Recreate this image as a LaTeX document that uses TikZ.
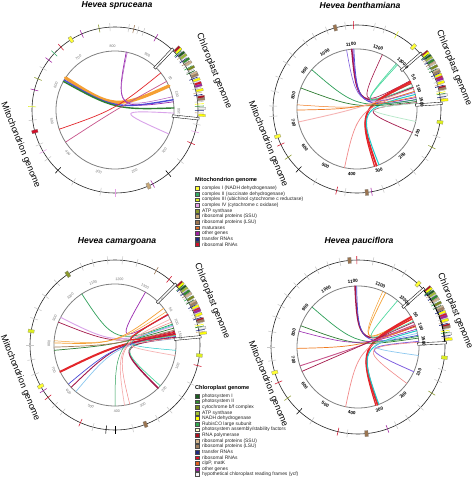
\documentclass[tikz,border=0pt]{standalone}
\usepackage{fontspec}
\setmainfont{Liberation Sans}
% mitochondrion legend colours
\definecolor{cI}{HTML}{FFFF33}
\definecolor{cII}{HTML}{33AA66}
\definecolor{cIII}{HTML}{DDEE22}
\definecolor{cIV}{HTML}{E8A0E8}
\definecolor{atp}{HTML}{8B9A2B}
\definecolor{rpS}{HTML}{C8A878}
\definecolor{rpL}{HTML}{9A7450}
\definecolor{mat}{HTML}{E0702A}
\definecolor{oth}{HTML}{A020A0}
\definecolor{trn}{HTML}{1F2A80}
\definecolor{rrn}{HTML}{D0102A}
\definecolor{lg}{HTML}{C8C8C8}
% chloroplast legend colours
\definecolor{psI}{HTML}{1B5E20}
\definecolor{psII}{HTML}{2E8B2E}
\definecolor{cyt}{HTML}{7A8B1A}
\definecolor{atpC}{HTML}{A0C030}
\definecolor{ndh}{HTML}{FFFF00}
\definecolor{rbc}{HTML}{2FA84F}
\definecolor{ycfA}{HTML}{FFFFCC}
\definecolor{rpo}{HTML}{B01020}
\definecolor{rpsC}{HTML}{D2B48C}
\definecolor{rplC}{HTML}{A08060}
\definecolor{trnC}{HTML}{1F2A80}
\definecolor{rrnC}{HTML}{E0102A}
\definecolor{clp}{HTML}{E06020}
\definecolor{othC}{HTML}{A020A0}
\definecolor{hyp}{HTML}{F2F2F2}
% link colours
\definecolor{Lorange}{HTML}{F5A033}
\definecolor{Lblue}{HTML}{4B4BD6}
\definecolor{Ldgreen}{HTML}{2E7D32}
\definecolor{Lred}{HTML}{E3262B}
\definecolor{Lpink}{HTML}{C8558C}
\definecolor{Lpurple}{HTML}{9A2AB0}
\definecolor{Llilac}{HTML}{D9A3EA}
\definecolor{Lmaroon}{HTML}{A3184A}
\definecolor{Lmint}{HTML}{4FD9A0}
\definecolor{Lcyan}{HTML}{22C9C9}
\definecolor{Lsalmon}{HTML}{F28A8A}
\definecolor{Llpink}{HTML}{F6B4B4}
\definecolor{Llgreen}{HTML}{B5E8C8}
\definecolor{Lgreen}{HTML}{2FA05A}
\definecolor{Lbrown}{HTML}{A57A55}
\definecolor{Llblue}{HTML}{8CC8F0}
\definecolor{Lviolet}{HTML}{8060E0}
\definecolor{Lorange2}{HTML}{F07A20}

\tikzset{
  ring/.style={line width=0.6pt, black!85},
  inring/.style={line width=0.8pt, black!50},
  lnk/.style={line width=0.7pt, line cap=round},
  band/.style={draw=black, fill=white, line width=0.35pt, inner sep=0pt, minimum height=2.4pt},
  ttl/.style={font=\fontsize{8.6}{10}\selectfont\bfseries\itshape, inner sep=0pt},
  gname/.style={font=\fontsize{9}{11}\selectfont, rotate=-68, inner sep=0pt},
  tkA/.style={font=\fontsize{4.6}{5}\selectfont\bfseries, inner sep=0pt},
  tkB/.style={font=\fontsize{3.6}{4}\selectfont, text=black!55, inner sep=0pt},
  lgt/.style={font=\fontsize{5.6}{6}\selectfont\bfseries, anchor=west, inner sep=0pt},
  lgi/.style={font=\fontsize{4.9}{5.5}\selectfont, anchor=west, inner sep=0pt, text=black!85},
  lgb/.style={draw=black!70, line width=0.3pt, minimum size=3.8pt, inner sep=0pt}
}

\newcommand\setpanel[6]{%
  \def\Ri{#1}\def\Ro{#2}\def\Tb{#3}\def\Bb{#4}\def\mz{#5}\def\mscale{#6}%
  \pgfmathsetmacro\Rk{#1*0.04}%
  \pgfmathsetmacro\cpA{#3-1}%
  \pgfmathsetmacro\cpS{#3-#4-2}%
  \pgfmathsetmacro\cps{(#3-#4-2)/161}%
  \pgfmathsetmacro\rmA{#2-4}\pgfmathsetmacro\rmB{#2+4}%
  \pgfmathsetmacro\rmC{#2-3}\pgfmathsetmacro\rmD{#2+3}%
  \pgfmathsetmacro\rcA{#2-3}\pgfmathsetmacro\rcB{#2+6}%
  \pgfmathsetmacro\rcC{#2+0.5}\pgfmathsetmacro\rcD{#2+7.5}%
  \pgfmathsetmacro\Rt{#1+5}%
  \pgfmathsetmacro\Bw{#2-#1+3}\pgfmathsetmacro\Bmid{(#1+#2)/2}%
}
\newcommand\lk[3][]{\draw[lnk,#1] (#2:\Ri) .. controls (#2:\Rk) and (#3:\Rk) .. (#3:\Ri);}
\newcommand\rings{%
  \draw[ring] (0,0) circle[radius=\Ro];
  \draw[inring] (0,0) circle[radius=\Ri];}
\newcommand\mitomarks[1]{%
  \foreach \a/\cc/\t in {#1}{%
    \ifnum\t=1 \draw[\cc, line width=0.55pt] (\a:\rmA) -- (\a:\rmB);
    \else \pgfmathsetmacro\ab{\a-1.1}\pgfmathsetmacro\ac{\a+1.1}%
      \filldraw[fill=\cc, draw=black!50, line width=0.2pt] (\ab:\rmC) -- (\ac:\rmC) -- (\ac:\rmD) -- (\ab:\rmD) -- cycle;
    \fi}}
\def\cplist{0.02/rpo/2, 0.05/ndh/2, 0.07/psII/1, 0.09/trnC/1, 0.11/psI/2, 0.13/rpsC/1, 0.15/atpC/2, 0.17/lg/1, 0.19/trnC/1, 0.21/psII/2, 0.24/rplC/1, 0.26/rpsC/2, 0.28/lg/1, 0.31/rbc/1, 0.33/cyt/2, 0.36/lg/1, 0.38/psI/1, 0.41/rpsC/2, 0.44/rplC/2, 0.47/trnC/1, 0.50/ndh/2, 0.52/lg/1, 0.55/rrnC/2, 0.58/othC/2, 0.61/lg/1, 0.64/ndh/2, 0.67/rpsC/1, 0.70/trnC/1, 0.73/rpo/2, 0.76/rplC/2, 0.79/lg/1, 0.82/ndh/1, 0.85/psII/1, 0.88/hyp/2, 0.91/trnC/1, 0.94/rpsC/1, 0.97/ndh/2}
\newcommand\cpmarks{%
  \foreach \f/\cc/\t in \cplist {%
    \pgfmathsetmacro\angA{\cpA-\f*\cpS}%
    \ifnum\t=1 \draw[\cc, line width=0.6pt] (\angA:\rcA) -- (\angA:\rcB);
    \else \pgfmathsetmacro\ab{\angA-0.75}\pgfmathsetmacro\ac{\angA+0.75}%
      \filldraw[fill=\cc, draw=black!50, line width=0.2pt] (\ab:\rcC) -- (\ac:\rcC) -- (\ac:\rcD) -- (\ab:\rcD) -- cycle;
    \fi}}
\newcommand\bands{%
  \node[band, minimum width=\Bw pt, rotate=\Tb] at (\Tb:\Bmid) {};
  \node[band, minimum width=\Bw pt, rotate=\Bb] at (\Bb:\Bmid) {};}
\newcommand\mticks[2]{%
  \foreach \k in {0,...,#1}{%
    \pgfmathsetmacro\angA{\mz-\mscale*\k*100}%
    \pgfmathsetmacro\rr{sin(\angA)>=0 ? \angA-90 : \angA+90}%
    \node[#2, rotate=\rr] at (\angA:\Rt) {\ifnum\k=0 0\else\k00\fi};}
  \foreach \v in {0,50,100,150}{%
    \pgfmathsetmacro\angA{\cpA-\cps*\v}%
    \pgfmathsetmacro\rr{sin(\angA)>=0 ? \angA-90 : \angA+90}%
    \node[#2, rotate=\rr] at (\angA:\Rt) {\v};}}

\begin{document}
\begin{tikzpicture}[x=1pt,y=1pt]
\useasboundingbox (0,0) rectangle (474,-482);
\fill[white] (0,0) rectangle (474,-482);

% ---------- Panel 1: Hevea spruceana ----------
\node[ttl] (t1) at (117,-5) {Hevea spruceana};
\begin{scope}[shift={(115,-110)}]
  \setpanel{59}{83}{46.5}{-6}{-7}{0.326}
  \rings
  \mitomarks{122/cI/2, 113.6/oth/1, 101/atp/1, 93.5/lg/1, 80.5/lg/1, 77/rpL/1, 74/lg/1, 70/lg/1, 60.5/oth/1, 130.7/rrn/1, 137/cII/1, 143/oth/1, 150/lg/1, 158/atp/1, 166/oth/1, 177.7/cIII/1, 187/lg/1, 195/rrn/2, 204.5/lg/1, 210/cIV/1, 216/lg/1, 226.6/black/1, 240/lg/1, 260/lg/1, 270/cIV/1, 293.8/rpS/2, 297/oth/1, 310/black/1, 322/lg/1, 336.5/rrn/1, 344.8/cIV/1, 350/lg/1}
  \cpmarks
  \lk[Lorange, line width=3.2pt]{24}{147}
  \lk[Lblue, line width=1.4pt]{10}{149.5}
  \lk[Ldgreen, line width=1.4pt]{2}{151}
  \lk[Lred]{39}{199}
  \lk[Lpink]{29}{213}
  \lk[Lpurple]{8}{79}
  \lk[Lpurple!80, line width=0.5pt]{13}{78}
  \lk[Llilac, line width=0.9pt]{-3}{-24}
  \bands
  \mticks{9}{tkB}
\end{scope}
\node[gname] (c1) at (214,-71) {Chloroplast genome};
\node[gname] (m1) at (20.5,-145) {Mitochondrion genome};

% ---------- Panel 2: Hevea benthamiana ----------
\node[ttl] (t2) at (360,-5) {Hevea benthamiana};
\begin{scope}[shift={(357,-109)}]
  \setpanel{60}{84}{41}{3.8}{2.6}{0.243}
  \rings
  \mitomarks{92.4/rrn/1, 98/lg/1, 105/rpL/2, 111/lg/1, 120.6/lg/1, 128/lg/1, 140/lg/1, 147/lg/1, 158/lg/1, 168/lg/1, 178/lg/1, 185/lg/1, 199/cI/2, 205/rrn/1, 215/atp/1, 226/black/1, 240/lg/1, 256/rrn/1, 262/lg/1, 276.7/rpL/2, 280/oth/1, 288/lg/1, 299/lg/1, 312/lg/1, 324/lg/1, 333/atp/1, 341/lg/1, 351/cIII/2, 78/lg/1, 71/lg/1, 62/cIII/1, 47.8/cI/2}
  \cpmarks
  \lk[Lmaroon, line width=1.5pt]{21}{95}
  \lk[Lpurple]{11}{94}
  \lk[Lblue]{9}{93}
  \lk[Lmaroon, line width=0.6pt]{28}{65}
  \lk[Lmint]{22}{49}
  \lk[Lmint]{25}{47.5}
  \lk[Lred, line width=1.8pt]{27}{-71}
  \lk[Lred, line width=1.2pt]{25.5}{-73}
  \lk[Lcyan, line width=1pt]{14}{-68.5}
  \lk[Lsalmon]{17}{-102}
  \lk[Lgreen]{9}{139}
  \lk[Ldgreen]{7.2}{159.5}
  \lk[Lorange2]{17}{181}
  \lk[Lorange2, line width=0.5pt]{12}{176}
  \lk[Llpink, line width=0.9pt]{20}{192.5}
  \lk[Lmaroon, line width=0.7pt]{6}{-23}
  \lk[Llgreen]{5.5}{-12}
  \lk[Lviolet, line width=0.6pt]{16}{100}
  \bands
  \mticks{13}{tkA}
\end{scope}
\node[gname] (c2) at (454,-68) {Chloroplast genome};
\node[gname] (m2) at (268,-144) {Mitochondrion genome};

% ---------- Panel 3: Hevea camargoana ----------
\node[ttl] (t3) at (117,-241) {Hevea camargoana};
\begin{scope}[shift={(115,-345)}]
  \setpanel{61}{85}{45}{5.5}{4.5}{0.232}
  \rings
  \mitomarks{95/lg/1, 105/lg/1, 113/lg/1, 123.7/atp/2, 133/lg/1, 145/lg/1, 155/lg/1, 162/lg/1, 170.6/cIII/2, 180/lg/1, 190/lg/1, 200/lg/1, 209/cI/2, 212.5/oth/1, 218/rrn/1, 225/lg/1, 232/lg/1, 246/rrn/1, 255/lg/1, 264/black/1, 270/black/1, 282/lg/1, 291/rpL/2, 300/lg/1, 310/lg/1, 322/lg/1, 333/lg/1, 346/rrn/1, 353/cIII/2, 61/rpL/1, 50.5/rrn/1, 75/lg/1, 85/lg/1}
  \cpmarks
  \lk[Lgreen]{20}{123}
  \lk[Lpurple]{29.5}{60}
  \lk[Llilac, line width=0.9pt]{18}{153}
  \lk[Lmaroon]{13}{158}
  \lk[Lorange]{37}{178}
  \lk[Lorange, line width=0.5pt]{33}{176}
  \lk[Ldgreen]{16}{185}
  \lk[Lbrown]{14}{182}
  \lk[Lred, line width=2pt]{10}{206}
  \lk[Lmaroon, line width=0.9pt]{11}{224}
  \lk[Lblue]{8}{220}
  \lk[Llblue]{6}{230}
  \lk[Lgreen, line width=0.5pt]{30}{-90}
  \lk[Llpink]{25}{-81}
  \lk[Lsalmon, line width=0.5pt]{22}{-76}
  \lk[Lmaroon, line width=1.5pt]{7}{-45}
  \lk[Lmint]{9}{-42}
  \lk[Llpink]{6.5}{-10}
  \lk[Lcyan, line width=0.5pt]{19}{-5}
  \lk[Lred, line width=1.2pt]{12}{30}
  \bands
  \mticks{13}{tkB}
\end{scope}
\node[gname] (c3) at (212,-301) {Chloroplast genome};
\node[gname] (m3) at (20,-378) {Mitochondrion genome};

% ---------- Panel 4: Hevea pauciflora ----------
\node[ttl] (t4) at (359,-241) {Hevea pauciflora};
\begin{scope}[shift={(358,-347)}]
  \setpanel{61}{87}{41.5}{2.8}{1.8}{0.243}
  \rings
  \draw[line width=1.5pt] (\cpA:\Ro) arc[start angle=\cpA, end angle=\Bb, radius=\Ro];
  \mitomarks{90.8/rrn/1, 95.6/rpL/2, 102/lg/1, 110/lg/1, 118/lg/1, 126/lg/1, 135/lg/1, 144/lg/1, 152/lg/1, 160/lg/1, 170/lg/1, 180/lg/1, 189/lg/1, 197/cI/2, 204/rrn/1, 216/atp/1, 227.6/black/1, 238/lg/1, 256.7/rrn/1, 263/lg/1, 275.6/rpL/2, 289.8/oth/1, 296/lg/1, 305/lg/1, 316/lg/1, 328/atp/1, 337/lg/1, 345/lg/1, 353/cIII/2, 46.4/cI/2, 58/lg/1, 66/lg/1, 80/lg/1}
  \cpmarks
  \lk[Lmaroon, line width=1.5pt]{20}{92.8}
  \lk[Lblue]{11}{91.3}
  \lk[Lorange]{29}{63}
  \lk[Lorange, line width=0.5pt]{27}{66}
  \lk[Lmint]{25}{49.5}
  \lk[Lred, line width=2pt]{29.4}{-71.2}
  \lk[Lred, line width=1.2pt]{27.5}{-73}
  \lk[Lcyan, line width=1pt]{15.5}{-70}
  \lk[Lsalmon]{21}{-101.7}
  \lk[Lgreen]{10}{139}
  \lk[Ldgreen]{8.4}{159.6}
  \lk[Lorange2]{19.6}{181.3}
  \lk[Lpink, line width=0.9pt]{21.6}{198}
  \lk[Lmaroon]{24}{203.5}
  \lk[Lviolet, line width=0.8pt]{5.3}{-23.9}
  \lk[Lsalmon, line width=0.6pt]{4.5}{-36.7}
  \lk[Llblue]{13}{-8}
  \lk[Lpurple, line width=0.6pt]{17}{165}
  \bands
  \mticks{13}{tkA}
\end{scope}
\node[gname] (c4) at (455,-311) {Chloroplast genome};
\node[gname] (m4) at (268,-384) {Mitochondrion genome};

% ---------- Legends ----------
\node[lgt] (lg1) at (195,-180) {Mitochondrion genome};
\foreach \cc/\txt [count=\i from 0] in {cI/{complex I (NADH dehydrogenase)}, cII/{complex II (succinate dehydrogenase)}, cIII/{complex III (ubichinol cytochrome c reductase)}, cIV/{complex IV (cytochrome c oxidase)}, atp/{ATP synthase}, rpS/{ribosomal proteins (SSU)}, rpL/{ribosomal proteins (LSU)}, mat/{maturases}, oth/{other genes}, trn/{transfer RNAs}, rrn/{ribosomal RNAs}}{
  \node[lgb, fill=\cc] (mb\i) at (197.5,{-188.5-5.6*\i}) {};
  \node[lgi] (mt\i) at (202,{-188.5-5.6*\i}) {\txt};
}
\node[lgt] (lg2) at (195,-387.7) {Chloroplast genome};
\foreach \cc/\txt [count=\i from 0] in {psI/{photosystem I}, psII/{photosystem II}, cyt/{cytochrome b/f complex}, atpC/{ATP synthase}, ndh/{NADH dehydrogenase}, rbc/{RubisCO large subunit}, ycfA/{photosystem assembly/stability factors}, rpo/{RNA polymerase}, rpsC/{ribosomal proteins (SSU)}, rplC/{ribosomal proteins (LSU)}, trnC/{transfer RNAs}, rrnC/{ribosomal RNAs}, clp/{clpP, matK}, othC/{other genes}, hyp/{hypothetical chloroplast reading frames (ycf)}}{
  \node[lgb, fill=\cc] (cb\i) at (197.5,{-396-5.6*\i}) {};
  \node[lgi] (ct\i) at (202,{-396-5.6*\i}) {\txt};
}
\end{tikzpicture}
\end{document}
